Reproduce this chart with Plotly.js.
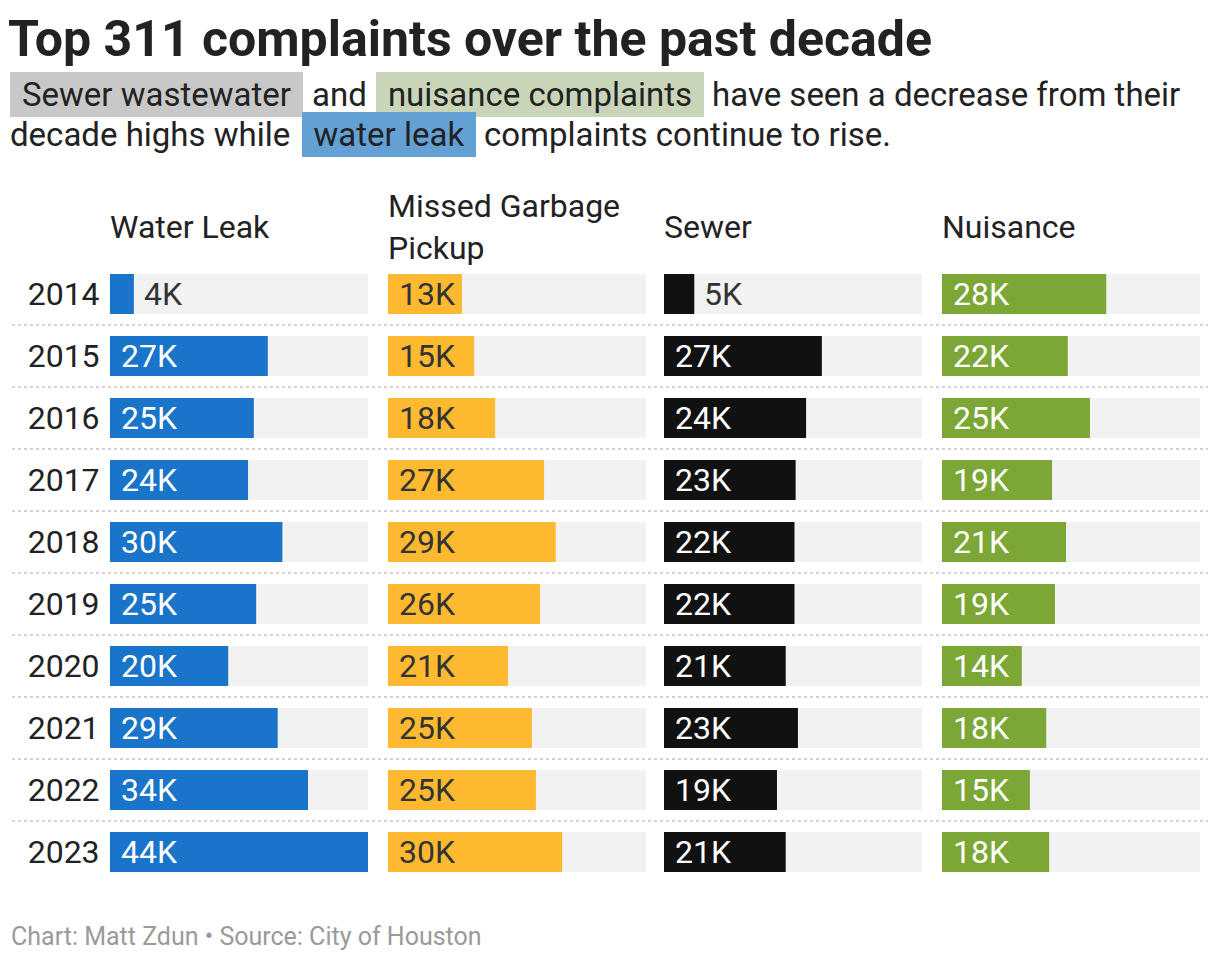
<!DOCTYPE html>
<html>
<head>
<meta charset="utf-8">
<script src="https://cdn.plot.ly/plotly-3.0.1.min.js"></script>
<style>
  html, body { margin: 0; padding: 0; background: #ffffff; }
  #chart { width: 1220px; height: 964px; }
</style>
</head>
<body>
<div id="chart"></div>
<script>
// ---- Data (complaints, thousands) ----
const years = ['2014', '2015', '2016', '2017', '2018', '2019', '2020', '2021', '2022', '2023'];
const waterLeak     = [4.1, 27.1, 24.7, 23.7, 29.6, 25.1, 20.3, 28.8, 34.0, 44.3];
const missedGarbage = [12.7, 14.8, 18.4, 26.8, 28.8, 26.1, 20.6, 24.7, 25.4, 29.9];
const sewer         = [5.2, 27.1, 24.4, 22.6, 22.4, 22.4, 20.9, 23.0, 19.4, 20.9];
const nuisance      = [28.2, 21.6, 25.4, 18.9, 21.3, 19.4, 13.7, 17.9, 15.1, 18.4];
const seriesNames   = ['Water Leak', 'Missed Garbage<br>Pickup', 'Sewer', 'Nuisance'];

// ---- Styles ----
const W = 1220, H = 964;
const FONT = 'Roboto, "Noto Sans", sans-serif';
const BODY = 32;
const seriesData = [waterLeak, missedGarbage, sewer, nuisance];
const barColors = ['#1a74c9', '#fdba30', '#111111', '#7ca736'];
const insideText = ['#ffffff', '#333333', '#ffffff', '#ffffff'];
const colPx = [[110, 368], [388, 646], [664, 922], [942, 1200]];
const plotTop = 263, plotBottom = 883;

const px = v => v / W;
const py = v => 1 - v / H;

const maxVal = Math.max(...seriesData.flat());

const traces = [];
const annotations = [];
const layout = {
  width: W, height: H,
  margin: {l: 0, r: 0, t: 0, b: 0},
  paper_bgcolor: '#ffffff', plot_bgcolor: '#ffffff',
  font: {family: FONT, color: '#222222', size: BODY},
  showlegend: false,
  barmode: 'overlay',
  bargap: 22 / 62,
  title: {
    text: '<b>Top 311 complaints over the past decade</b>',
    xref: 'container', yref: 'container',
    x: px(8), xanchor: 'left', y: py(38), yanchor: 'middle',
    font: {family: FONT, size: 50, color: '#222222'}
  },
  yaxis: {
    type: 'category', categoryorder: 'array', categoryarray: years,
    autorange: false, range: [years.length - 0.5, -0.5],
    domain: [py(plotBottom), py(plotTop)], anchor: 'x',
    showgrid: false, zeroline: false, showline: false,
    ticks: 'outside', ticklen: 3, tickcolor: 'rgba(0,0,0,0)',
    tickfont: {family: FONT, size: BODY, color: '#222222'},
    fixedrange: true
  },
  shapes: [],
  annotations: annotations
};

seriesData.forEach((vals, j) => {
  const xa = j === 0 ? 'x' : 'x' + (j + 1);
  const axKey = j === 0 ? 'xaxis' : 'xaxis' + (j + 1);
  layout[axKey] = {
    domain: [px(colPx[j][0]), px(colPx[j][1])],
    range: [0, maxVal], autorange: false, anchor: 'y',
    visible: false, fixedrange: true
  };
  // background track
  traces.push({
    type: 'bar', orientation: 'h', y: years, x: years.map(() => maxVal),
    xaxis: xa, yaxis: 'y', marker: {color: '#f2f2f2'}, hoverinfo: 'skip'
  });
  // values
  traces.push({
    type: 'bar', orientation: 'h', y: years, x: vals,
    xaxis: xa, yaxis: 'y', marker: {color: barColors[j]},
    name: seriesNames[j].replace('<br>', ' '),
    hovertemplate: '%{y}: %{x:.1f}K<extra></extra>'
  });
  // column header
  annotations.push({
    xref: 'paper', yref: 'paper', x: px(colPx[j][0] - 2), y: py(227),
    xanchor: 'left', yanchor: 'middle', align: 'left', showarrow: false,
    text: seriesNames[j], font: {family: FONT, size: BODY, color: '#222222'}
  });
  // value labels
  const widthPx = colPx[j][1] - colPx[j][0];
  vals.forEach((v, i) => {
    const barPx = v / maxVal * widthPx;
    const outside = barPx < 60;
    annotations.push({
      xref: xa, yref: 'y', x: outside ? v : 0, y: i,
      xshift: outside ? 8 : 9, xanchor: 'left', yanchor: 'middle',
      showarrow: false, text: Math.round(v) + 'K',
      font: {family: FONT, size: BODY, color: outside ? '#333333' : insideText[j]}
    });
  });
});

// dotted separators between rows
for (let i = 0; i < years.length - 1; i++) {
  layout.shapes.push({
    type: 'line', xref: 'paper', yref: 'y',
    x0: px(12), x1: px(1208), y0: i + 0.5, y1: i + 0.5,
    line: {color: '#d2d2d2', width: 2, dash: 'dot'}, layer: 'below'
  });
}

// subtitle with highlighted phrases
const subFont = {family: FONT, size: 33, color: '#222222'};
const subParts = [
  {text: 'Sewer wastewater', x0: 10, w: 293, y: 94.5, bg: '#c8c8c8'},
  {text: 'and', x0: 312, y: 94.5},
  {text: 'nuisance complaints', x0: 376, w: 328, y: 94.5, bg: '#c9d5b8'},
  {text: 'have seen a decrease from their', x0: 712, y: 94.5},
  {text: 'decade highs while', x0: 10, y: 135},
  {text: 'water leak', x0: 302, w: 174, y: 135, bg: '#63a0d4'},
  {text: 'complaints continue to rise.', x0: 484, y: 135}
];
subParts.forEach(p => {
  const a = {
    xref: 'paper', yref: 'paper', x: px(p.x0), y: py(p.y),
    xanchor: 'left', yanchor: 'middle', showarrow: false,
    text: p.text, font: subFont, borderwidth: 0, borderpad: 0
  };
  if (p.bg) { a.bgcolor = p.bg; a.width = p.w; a.height = 45; a.align = 'center'; a.valign = 'middle'; }
  annotations.push(a);
});

// footer
annotations.push({
  xref: 'paper', yref: 'paper', x: px(9), y: py(936),
  xanchor: 'left', yanchor: 'middle', showarrow: false,
  text: 'Chart: Matt Zdun • Source: City of Houston',
  font: {family: FONT, size: 25, color: '#9a9a9a'}
});

Plotly.newPlot('chart', traces, layout, {displayModeBar: false});
</script>
</body>
</html>
